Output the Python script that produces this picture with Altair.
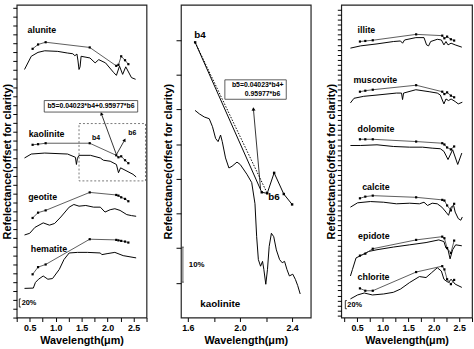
import altair as alt
import pandas as pd

# ASTER SWIR/VNIR band centres (um)
BANDS = [0.556, 0.661, 0.807, 1.656, 2.167, 2.209, 2.262, 2.336, 2.400]

# ---------- left panel (offset reflectance, arbitrary offset units) ----------
alunite_w = [0.40, 0.53, 0.66, 0.79, 1.04, 1.23, 1.33, 1.37, 1.41, 1.43, 1.45, 1.47, 1.49, 1.66, 1.76, 1.83, 1.96, 2.12, 2.17, 2.23, 2.29, 2.35, 2.46, 2.54]
alunite_v = [252.3, 265.7, 269.7, 271.3, 270.7, 269, 268.3, 266.3, 268, 261, 252.3, 255, 265.7, 264, 259, 262.3, 259, 249, 246.3, 255.7, 247.3, 255, 244, 242.3]
alunite_c = [273.3, 277.7, 280, 274.7, 256, 257, 265.7, 261.7, 257.7]

kaolinite_w = [0.40, 0.53, 0.79, 1.23, 1.38, 1.40, 1.42, 1.45, 1.67, 1.86, 1.92, 2.05, 2.17, 2.21, 2.25, 2.49, 2.55]
kaolinite_v = [162.3, 166.3, 167.3, 166.3, 163, 155.7, 162, 165, 165, 162.3, 160, 159, 155.7, 147.3, 152.3, 145.7, 143]
kaolinite_c = [175.7, 176.3, 177.3, 177.3, 165, 163, 164, 160, 157]

geotite_w = [0.40, 0.50, 0.60, 0.76, 0.88, 0.98, 1.10, 1.26, 1.35, 1.45, 1.58, 1.73, 1.86, 1.95, 2.05, 2.14, 2.24, 2.37, 2.46, 2.55]
geotite_v = [84, 85.7, 91.7, 96.3, 94, 95.7, 102.3, 112.3, 115, 113.3, 114, 112.3, 112.3, 107.3, 109.7, 110.7, 109, 104.7, 103.7, 103]
geotite_c = [101.3, 106.7, 109, 127.3, 124.7, 124, 122.3, 120.7, 118.3]

hematite_w = [0.40, 0.57, 0.61, 0.67, 0.76, 0.85, 0.94, 1.07, 1.16, 1.26, 1.42, 1.61, 1.86, 1.89, 1.99, 2.14, 2.30, 2.55]
hematite_v = [29.7, 30, 35.7, 39, 42.3, 39, 39.7, 49, 59, 65.7, 66.3, 66.3, 65.7, 64, 65, 66.3, 63, 60.7]
hematite_c = [44, 51.3, 54, 79.7, 79, 78.5, 78, 77.3, 76.3]

left_names = ["alunite", "kaolinite", "geotite", "hematite"]
left_label_w = [0.46, 0.48, 0.47, 0.52]
left_label_v = [292, 187, 123, 70]

# ---------- right panel ----------
illite_w = [0.37, 0.57, 0.89, 1.21, 1.35, 1.39, 1.43, 1.65, 1.81, 1.86, 1.90, 1.94, 2.07, 2.15, 2.20, 2.24, 2.28, 2.34, 2.42, 2.55]
illite_v = [274, 276.3, 278.3, 280.7, 281.3, 279, 282.3, 284.7, 284.7, 277.3, 276.3, 280.7, 283, 282.3, 277.3, 280.7, 277.3, 279, 277.3, 275]
illite_c = [280.7, 281.3, 282, 288, 286.7, 284, 285.7, 283, 281.7]

muscovite_w = [0.37, 0.44, 0.63, 0.89, 1.27, 1.37, 1.39, 1.41, 1.65, 1.91, 2.07, 2.13, 2.16, 2.20, 2.24, 2.29, 2.34, 2.42, 2.48, 2.56]
muscovite_v = [218.3, 223, 225, 226.3, 228.3, 228.3, 221.7, 228.3, 231.7, 229.7, 228.3, 226.3, 222.3, 217.3, 222.3, 220.7, 222.3, 219.7, 217.3, 219]
muscovite_c = [229.7, 230.7, 231.7, 236.3, 229.7, 227.3, 229, 225.7, 224]

dolomite_w = [0.37, 0.57, 0.89, 1.21, 1.53, 1.78, 1.97, 2.13, 2.20, 2.28, 2.37, 2.47, 2.55]
dolomite_v = [175, 175, 175.7, 174, 173.3, 173.3, 172.3, 171.7, 169, 160.7, 170.7, 155.7, 167.3]
dolomite_c = [181.3, 181.3, 181.3, 179, 177.3, 176, 173, 171, 174]

calcite_w = [0.37, 0.51, 0.76, 1.02, 1.27, 1.53, 1.72, 1.81, 1.88, 1.97, 2.07, 2.16, 2.24, 2.29, 2.34, 2.39, 2.42, 2.48, 2.53, 2.56]
calcite_v = [112.3, 116.7, 118, 117.3, 115.7, 116.3, 115.7, 117.3, 114, 116.3, 115.7, 112.3, 107.3, 104, 112.3, 114, 107.3, 100.7, 99, 102.3]
calcite_c = [121.3, 123, 124, 122.3, 119.7, 119, 114, 109, 115.7]

epidote_w = [0.37, 0.41, 0.48, 0.57, 0.73, 0.89, 1.21, 1.53, 1.85, 2.10, 2.20, 2.24, 2.28, 2.32, 2.37, 2.43, 2.55]
epidote_v = [42.3, 49, 60.7, 63, 67.3, 69, 71.7, 74, 76.3, 79, 77.3, 70.7, 69, 59.7, 69, 74, 73]
epidote_c = [63, 65, 70, 79, 82.3, 80.7, 70.7, 65.7, 78.3]

chlorite_w = [0.37, 0.51, 0.64, 0.80, 1.02, 1.21, 1.35, 1.53, 1.72, 1.85, 1.96, 2.07, 2.15, 2.20, 2.24, 2.29, 2.34, 2.42, 2.55]
chlorite_v = [19, 23, 25, 23, 24, 25.7, 29, 35.7, 41.7, 40.7, 45.7, 50.7, 47.3, 39, 37.3, 35.7, 39, 34, 30.7]
chlorite_c = [29.7, 27.3, 27.3, 46.3, 52.3, 49, 39, 34, 38.3]

right_names = ["illite", "muscovite", "dolomite", "calcite", "epidote", "chlorite"]
right_label_w = [0.51, 0.43, 0.51, 0.60, 0.52, 0.51]
right_label_v = [292, 242, 192, 133, 83, 41]

# ---------- middle panel: kaolinite detail (reflectance %, offset) ----------
mid_w = [1.655, 1.688, 1.726, 1.764, 1.789, 1.813, 1.832, 1.851, 1.864, 1.889, 1.915, 1.939, 1.977, 2.002, 2.053, 2.090, 2.115, 2.128, 2.141, 2.158, 2.173, 2.183, 2.198, 2.211, 2.224, 2.241, 2.259, 2.279, 2.304, 2.324, 2.342, 2.360, 2.379, 2.405, 2.425, 2.443, 2.462]
mid_v = [59.7, 58.7, 57.8, 57.3, 55.0, 51.6, 50.7, 52.6, 50.7, 46.0, 43.1, 43.6, 44.8, 44.1, 41.3, 38.9, 32.8, 23.3, 16.7, 14.8, 16.2, 13.9, 9.6, 13.9, 20.5, 24.3, 23.3, 19.5, 16.7, 15.8, 16.2, 13.9, 12.0, 12.5, 11.0, 9.2, 6.8]
mid_c = [79.3, 36.1, 35.8, 41.7, 35.6, 32.6]  # bands 4..9

FORMULA = "b5=0.04023*b4+0.95977*b6"
YTITLE = "Refelectance(offset for clarity)"
XTITLE = "Wavelength(\u03bcm)"
FONT = "Liberation Sans"


def spectra_frames(names, spec):
    rows_s, rows_c = [], []
    for n in names:
        ws, vs, cs = spec[n]
        rows_s += [{"m": n, "w": a, "v": b} for a, b in zip(ws, vs)]
        rows_c += [{"m": n, "w": a, "v": b} for a, b in zip(BANDS, cs)]
    return pd.DataFrame(rows_s), pd.DataFrame(rows_c)


def make_axes(xdom, ydom, xvals, xlabel_expr, yvals, ytick, ytitlepad):
    xs = alt.Scale(domain=xdom, nice=False, zero=False)
    ys = alt.Scale(domain=ydom, nice=False, zero=False)
    xa = alt.Axis(values=xvals, labelExpr=xlabel_expr, title=XTITLE, tickSize=4,
                  labelPadding=2, titlePadding=2, domain=False, grid=False)
    ya = alt.Axis(values=yvals, labels=False, title=YTITLE, tickSize=ytick,
                  titlePadding=ytitlepad, domain=False, grid=False)
    return xs, ys, xa, ya


def X(xs, xa, f="w"):
    return alt.X(f + ":Q", scale=xs, axis=xa)


def Y(ys, ya, f="v"):
    return alt.Y(f + ":Q", scale=ys, axis=ya)


def survey_panel(names, spec, lab_w, lab_v, xdom, yvals, extras_fn, width):
    s_df, c_df = spectra_frames(names, spec)
    xs, ys, xa, ya = make_axes(
        xdom, [0, 318],
        [0.25 * k for k in range(1, 12)],
        "(round(datum.value*4) % 2 == 0) ? format(datum.value, '.1f') : ''",
        yvals, 4, 0)
    spec_l = alt.Chart(s_df).mark_line(color="black", strokeWidth=1).encode(
        x=X(xs, xa), y=Y(ys, ya), detail="m:N")
    cont_l = alt.Chart(c_df).mark_line(
        color="#333", strokeWidth=0.8,
        point=alt.OverlayMarkDef(shape="square", size=5, filled=True, color="black")
    ).encode(x=X(xs, xa), y=Y(ys, ya), detail="m:N")
    lab_df = pd.DataFrame({"w": lab_w, "v": lab_v, "t": names})
    labels = alt.Chart(lab_df).mark_text(
        align="left", baseline="middle", font=FONT, fontWeight="bold", fontSize=9, color="black"
    ).encode(x=X(xs, xa), y=Y(ys, ya), text="t:N")
    layers = [spec_l, cont_l, labels] + extras_fn(xs, ys, xa, ya)
    return alt.layer(*layers).properties(width=width, height=318)


def bracket(xs, ys, xa, ya, w0, w1, v0, v1, tw, tv):
    bar = pd.DataFrame({"w": [w0], "v": [v0], "v2": [v1]})
    caps = pd.DataFrame({"w": [w0, w0], "w2": [w1, w1], "v": [v0, v1]})
    txt = pd.DataFrame({"w": [tw], "v": [tv], "t": ["20%"]})
    return [
        alt.Chart(bar).mark_rule(color="black", strokeWidth=0.8).encode(
            x=X(xs, xa), y=Y(ys, ya), y2="v2:Q"),
        alt.Chart(caps).mark_rule(color="black", strokeWidth=0.8).encode(
            x=X(xs, xa), x2="w2:Q", y=Y(ys, ya)),
        alt.Chart(txt).mark_text(align="left", baseline="middle", font=FONT,
                                 fontWeight="bold", fontSize=7.5).encode(
            x=X(xs, xa), y=Y(ys, ya), text="t:N"),
    ]


def left_extras(xs, ys, xa, ya):
    out = []
    box = pd.DataFrame({"w": [0.78], "w2": [2.58], "v": [209], "v2": [220.7]})
    out.append(alt.Chart(box).mark_rect(fill="white", stroke="#333", strokeWidth=0.8).encode(
        x=X(xs, xa), x2="w2:Q", y=Y(ys, ya), y2="v2:Q"))
    out.append(alt.Chart(pd.DataFrame({"w": [1.68], "v": [214.8], "t": [FORMULA]})).mark_text(
        font=FONT, fontWeight="bold", fontSize=7, baseline="middle").encode(
        x=X(xs, xa), y=Y(ys, ya), text="t:N"))
    dbox = pd.DataFrame({"w": [1.45], "w2": [2.73], "v": [139], "v2": [197.3]})
    out.append(alt.Chart(dbox).mark_rect(fillOpacity=0, stroke="#555", strokeWidth=0.8,
                                         strokeDash=[2, 2]).encode(
        x=X(xs, xa), x2="w2:Q", y=Y(ys, ya), y2="v2:Q"))
    arr = pd.DataFrame({"w": [2.17, 2.17], "v": [165.7, 165.7], "w2": [1.88, 2.33], "v2": [207.3, 180.7]})
    out.append(alt.Chart(arr).mark_rule(color="black", strokeWidth=0.8).encode(
        x=X(xs, xa), y=Y(ys, ya), x2="w2:Q", y2="v2:Q"))
    out.append(alt.Chart(pd.DataFrame({"w": [1.88], "v": [207.3]})).mark_point(
        shape="triangle-up", filled=True, size=14, color="black", angle=340, opacity=1).encode(
        x=X(xs, xa), y=Y(ys, ya)))
    out.append(alt.Chart(pd.DataFrame({"w": [2.33], "v": [180.7]})).mark_point(
        shape="triangle-up", filled=True, size=14, color="black", angle=29, opacity=1).encode(
        x=X(xs, xa), y=Y(ys, ya)))
    bl = pd.DataFrame({"w": [1.70, 2.40], "v": [182.3, 187.3], "t": ["b4", "b6"]})
    out.append(alt.Chart(bl).mark_text(align="left", baseline="middle", font=FONT,
                                       fontWeight="bold", fontSize=7).encode(
        x=X(xs, xa), y=Y(ys, ya), text="t:N"))
    out += bracket(xs, ys, xa, ya, 0.30, 0.33, 10.7, 19, 0.345, 15)
    return out


def right_extras(xs, ys, xa, ya):
    return bracket(xs, ys, xa, ya, 0.27, 0.30, 9, 17.3, 0.31, 13)


spec_all = {
    "alunite": (alunite_w, alunite_v, alunite_c),
    "kaolinite": (kaolinite_w, kaolinite_v, kaolinite_c),
    "geotite": (geotite_w, geotite_v, geotite_c),
    "hematite": (hematite_w, hematite_v, hematite_c),
    "illite": (illite_w, illite_v, illite_c),
    "muscovite": (muscovite_w, muscovite_v, muscovite_c),
    "dolomite": (dolomite_w, dolomite_v, dolomite_c),
    "calcite": (calcite_w, calcite_v, calcite_c),
    "epidote": (epidote_w, epidote_v, epidote_c),
    "chlorite": (chlorite_w, chlorite_v, chlorite_c),
}

left_ticks = [9 * k for k in range(0, 36)]
right_ticks = [round(2.1 + 5.1 * k, 1) for k in range(0, 62)]

left = survey_panel(left_names, spec_all, left_label_w, left_label_v, [0.25, 2.75],
                    left_ticks, left_extras, 132)
right = survey_panel(right_names, spec_all, right_label_w, right_label_v, [0.19, 2.75],
                     right_ticks, right_extras, 133)

# ---------- middle panel ----------
xs, ys, xa, ya = make_axes(
    [1.547, 2.543], [0, 90.1],
    [1.6, 1.8, 2.0, 2.2, 2.4],
    "(round(datum.value*10) % 4 == 0) ? format(datum.value, '.1f') : ''",
    [10 * k for k in range(1, 9)], 5, 2)
m_spec = pd.DataFrame({"w": mid_w, "v": mid_v})
m_cont = pd.DataFrame({"w": BANDS[3:], "v": mid_c})
m_dot = pd.DataFrame({"w": [BANDS[3], BANDS[5]], "v": [mid_c[0], mid_c[2]]})
mid_layers = [
    alt.Chart(m_spec).mark_line(color="black", strokeWidth=1).encode(x=X(xs, xa), y=Y(ys, ya)),
    alt.Chart(m_dot).mark_line(color="black", strokeWidth=1, strokeDash=[1.5, 1.5]).encode(
        x=X(xs, xa), y=Y(ys, ya)),
    alt.Chart(m_cont).mark_line(color="black", strokeWidth=1,
                                point=alt.OverlayMarkDef(shape="square", size=6, filled=True, color="black")
                                ).encode(x=X(xs, xa), y=Y(ys, ya)),
    alt.Chart(pd.DataFrame({"w": [1.884], "w2": [2.355], "v": [62.9], "v2": [68.5]})).mark_rect(
        fill="white", stroke="#333", strokeWidth=0.8).encode(
        x=X(xs, xa), x2="w2:Q", y=Y(ys, ya), y2="v2:Q"),
    alt.Chart(pd.DataFrame({"w": [2.136, 2.173], "v": [67.0, 64.4],
                            "t": ["b5=0.04023*b4+", "0.95977*b6"]})).mark_text(
        font=FONT, fontWeight="bold", fontSize=7, baseline="middle").encode(
        x=X(xs, xa), y=Y(ys, ya), text="t:N"),
    alt.Chart(pd.DataFrame({"w": [2.158], "v": [37.1], "w2": [2.103], "v2": [60.1]})).mark_rule(
        color="black", strokeWidth=0.8).encode(x=X(xs, xa), y=Y(ys, ya), x2="w2:Q", y2="v2:Q"),
    alt.Chart(pd.DataFrame({"w": [2.103], "v": [60.1]})).mark_point(
        shape="triangle-up", filled=True, size=16, color="black", angle=355, opacity=1).encode(
        x=X(xs, xa), y=Y(ys, ya)),
    alt.Chart(pd.DataFrame({"w": [1.650, 2.216], "v": [81.3, 34.6], "t": ["b4", "b6"]})).mark_text(
        align="left", baseline="middle", font=FONT, fontWeight="bold", fontSize=10).encode(
        x=X(xs, xa), y=Y(ys, ya), text="t:N"),
    alt.Chart(pd.DataFrame({"w": [1.849], "v": [4.0], "t": ["kaolinite"]})).mark_text(
        baseline="middle", font=FONT, fontWeight="bold", fontSize=10).encode(
        x=X(xs, xa), y=Y(ys, ya), text="t:N"),
    alt.Chart(pd.DataFrame({"w": [1.668], "v": [15.0], "t": ["10%"]})).mark_text(
        baseline="middle", font=FONT, fontWeight="bold", fontSize=8).encode(
        x=X(xs, xa), y=Y(ys, ya), text="t:N"),
    alt.Chart(pd.DataFrame({"w": [1.562], "v": [10.2], "v2": [20.3]})).mark_rule(
        color="#333", strokeWidth=0.8).encode(x=X(xs, xa), y=Y(ys, ya), y2="v2:Q"),
    alt.Chart(pd.DataFrame({"w": [1.555, 1.555], "w2": [1.569, 1.569], "v": [10.2, 20.3]})).mark_rule(
        color="#333", strokeWidth=0.8).encode(x=X(xs, xa), x2="w2:Q", y=Y(ys, ya)),
]
middle = alt.layer(*mid_layers).properties(width=132, height=318)

chart = alt.hconcat(left, middle, right, spacing=13).properties(
    padding={"left": 0, "top": 1, "right": 0, "bottom": 0}
).configure_view(stroke="#222", strokeWidth=1.2).configure_axis(
    labelFont=FONT, labelFontWeight="bold", labelFontSize=9, labelColor="black",
    titleFont=FONT, titleFontWeight="bold", titleFontSize=11, titleColor="black",
    tickColor="black", tickWidth=1
)

chart.save("out.html", embed_options={"renderer": "svg", "actions": False})
